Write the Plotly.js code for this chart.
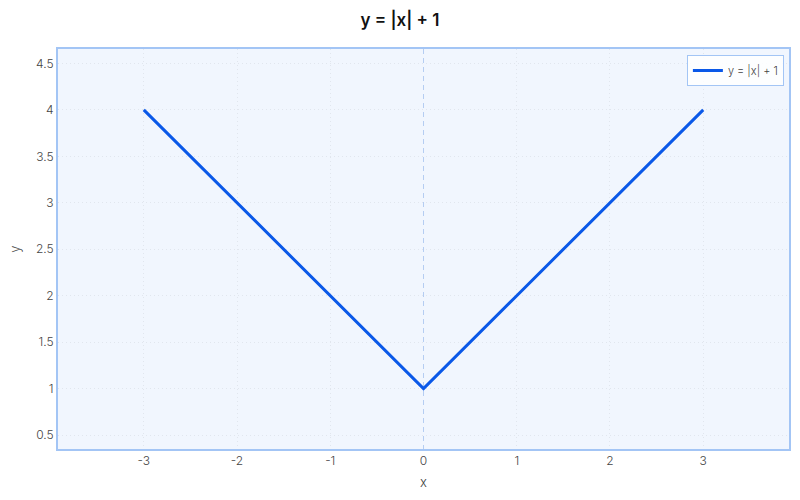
<!DOCTYPE html>
<html>
<head>
<meta charset="utf-8">
<script src="https://cdn.plot.ly/plotly-3.0.1.min.js"></script>
<style>html,body{margin:0;padding:0;background:#fff;}#chart{width:800px;height:500px;}</style>
</head>
<body>
<div id="chart"></div>
<script>
const xValues = [-3, -2, -1, 0, 1, 2, 3];
const yValues = [4, 3, 2, 1, 2, 3, 4];
const seriesName = 'y = |x| + 1';
const chartTitle = 'y = |x| + 1';
const xTickVals = [-3, -2, -1, 0, 1, 2, 3];
const xTickText = ['-3', '-2', '-1', '0', '1', '2', '3'];
const yTickVals = [0.5, 1, 1.5, 2, 2.5, 3, 3.5, 4, 4.5];
const yTickText = ['0.5', '1', '1.5', '2', '2.5', '3', '3.5', '4', '4.5'];

const font = 'Inter, "Noto Sans", sans-serif';
const trace = {
  x: xValues, y: yValues, type: 'scatter', mode: 'lines', name: seriesName,
  line: {color: '#0a58e8', width: 3}
};
const axisCommon = {
  showline: true, linecolor: '#a3c5f5', linewidth: 2, mirror: true,
  gridcolor: '#e1e6ee', griddash: '1px,3px', gridwidth: 1,
  ticks: '', tickfont: {family: font, size: 12, color: '#444', weight: 300},
  title: {font: {family: font, size: 13, color: '#444', weight: 300}}
};
const layout = {
  width: 800, height: 500,
  margin: {l: 58, r: 11, t: 49, b: 51},
  paper_bgcolor: '#ffffff', plot_bgcolor: '#f1f6fe',
  title: {text: chartTitle, x: 0.5, xanchor: 'center', y: 0.96, yanchor: 'middle',
          font: {family: font, size: 17, color: '#111', weight: 600}},
  showlegend: true,
  legend: {x: 0.993, xanchor: 'right', y: 0.985, yanchor: 'top',
           bgcolor: 'rgba(255,255,255,0.85)', bordercolor: '#a3c5f5', borderwidth: 1,
           font: {family: font, size: 11, color: '#444', weight: 300}},
  xaxis: Object.assign({}, axisCommon, {
    range: [-3.92, 3.92], tickmode: 'array', tickvals: xTickVals, ticktext: xTickText,
    zeroline: true, zerolinecolor: '#b5cdf2', zerolinewidth: 1,
    title: {text: 'x', standoff: 10, font: axisCommon.title.font}
  }),
  yaxis: Object.assign({}, axisCommon, {
    range: [0.35, 4.655], tickmode: 'array', tickvals: yTickVals, ticktext: yTickText,
    zeroline: false,
    title: {text: 'y', standoff: 12, font: axisCommon.title.font}
  })
};
Plotly.newPlot('chart', [trace], layout, {displayModeBar: false}).then(function(){
  document.querySelectorAll('.zerolinelayer path').forEach(function(p){ p.style.strokeDasharray = '5px,4px'; });
});
</script>
</body>
</html>
